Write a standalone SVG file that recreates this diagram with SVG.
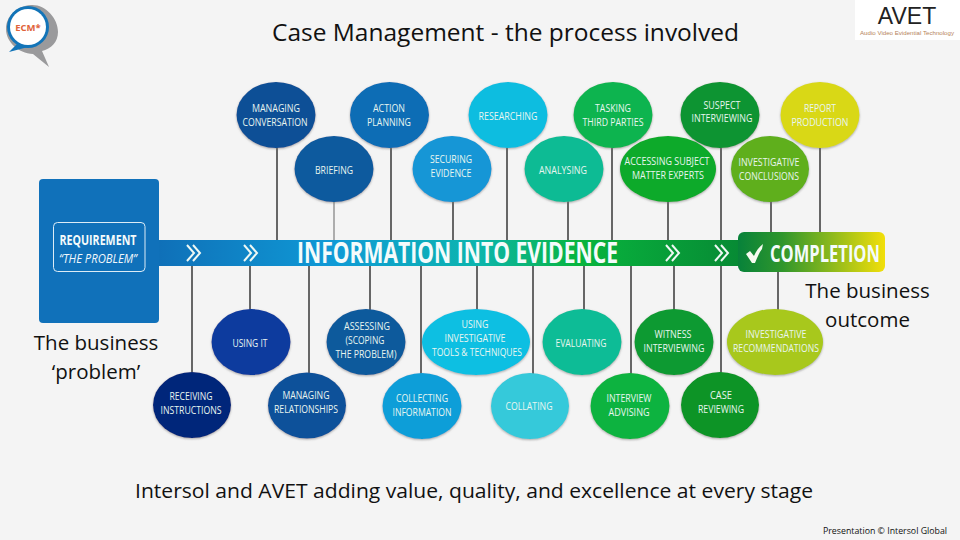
<svg xmlns="http://www.w3.org/2000/svg" width="960" height="540" viewBox="0 0 960 540">
<style>
.t{font-family:"Open Sans","Noto Sans",sans-serif;fill:#111}
.n{font-family:"Open Sans","Noto Sans",sans-serif;fill:#e9f6f0;font-size:10.5px;text-anchor:middle;font-weight:500}
.b{font-family:"Open Sans","Noto Sans",sans-serif;fill:#f4fbfb;font-weight:700;text-anchor:middle}
#connectors line{stroke:#666;stroke-width:2}
.c{fill:none;stroke:#eef8f4;stroke-width:2}
ellipse{filter:url(#s)}
</style>
<defs>
<filter id="s" x="-10%" y="-10%" width="120%" height="125%"><feDropShadow dx="0" dy="1" stdDeviation="0.8" flood-color="#777" flood-opacity="0.6"/></filter>
<linearGradient id="bar" x1="159" x2="740" y1="0" y2="0" gradientUnits="userSpaceOnUse">
<stop offset="0" stop-color="#0f70b8"/><stop offset="0.3" stop-color="#0f9ad6"/><stop offset="0.55" stop-color="#0cb5ad"/><stop offset="0.72" stop-color="#08b53e"/><stop offset="1" stop-color="#078a34"/></linearGradient>
<linearGradient id="comp" x1="0" x2="1" y1="0" y2="0"><stop offset="0" stop-color="#07823a"/><stop offset="0.3" stop-color="#2f962c"/><stop offset="1" stop-color="#f2df0a"/></linearGradient>
</defs>
<rect width="960" height="540" fill="#f4f4f4"/>
<g id="logo-ecm">
<path d="M31 5C45 4 58 18 58 32C58 42 51 49 42 51L49 67L33 54C18 53 6 42 6 29C6 16 17 6 31 5Z" fill="#9a9a9c"/>
<path d="M9 52L18 43L28 47Z" fill="#1274b8"/>
<circle cx="28" cy="27" r="21" fill="#1274b8"/><circle cx="28" cy="27" r="18" fill="#fff"/>
<text x="28" y="31" font-family="'Open Sans',sans-serif" font-size="9.5" font-weight="700" fill="#e0633a" text-anchor="middle">ECM*</text>
</g>
<g id="logo-avet">
<rect x="855" y="0" width="105" height="40" fill="#fff"/>
<text x="907" y="24" font-family="'Liberation Sans',sans-serif" font-size="23" fill="#222" text-anchor="middle">AVET</text>
<text x="907" y="35" font-family="'Liberation Sans',sans-serif" font-size="5.800" fill="#b5835a" text-anchor="middle" textLength="94" lengthAdjust="spacingAndGlyphs">Audio Video Evidential Technology</text>
</g>
<text class="t" x="505.500" y="41" font-size="24" text-anchor="middle" textLength="467" lengthAdjust="spacingAndGlyphs">Case Management - the process involved</text>
<g id="connectors">
<line x1="277" y1="146" x2="277" y2="241"/><line x1="391" y1="146" x2="391" y2="241"/><line x1="507" y1="146" x2="507" y2="241"/><line x1="612" y1="146" x2="612" y2="241"/><line x1="721" y1="146" x2="721" y2="241"/><line x1="820" y1="146" x2="820" y2="233"/>
<line x1="334" y1="200" x2="334" y2="241" style="stroke-width:1"/><line x1="453" y1="200" x2="453" y2="241"/><line x1="568" y1="200" x2="568" y2="241"/><line x1="668" y1="200" x2="668" y2="241"/><line x1="771" y1="200" x2="771" y2="233"/>
<line x1="192" y1="265" x2="192" y2="374"/><line x1="250" y1="265" x2="250" y2="311"/><line x1="309" y1="265" x2="309" y2="374"/><line x1="370" y1="265" x2="370" y2="311"/><line x1="421" y1="265" x2="421" y2="374"/><line x1="477" y1="265" x2="477" y2="311"/><line x1="533" y1="265" x2="533" y2="374"/><line x1="584" y1="265" x2="584" y2="311"/><line x1="631" y1="265" x2="631" y2="374"/><line x1="674" y1="265" x2="674" y2="311"/><line x1="721" y1="265" x2="721" y2="374"/><line x1="778" y1="271" x2="778" y2="311"/>
</g>
<g id="bar-main">
<rect x="155" y="240" width="590" height="26" fill="url(#bar)"/>
<path class="c" d="M187 245L194 253L187 261M193 245L200 253L193 261"/>
<path class="c" d="M244 245L251 253L244 261M250 245L257 253L250 261"/>
<path class="c" d="M666 245L673 253L666 261M672 245L679 253L672 261"/>
<path class="c" d="M715 245L722 253L715 261M721 245L728 253L721 261"/>
<text class="b" x="457.500" y="263" font-size="28" textLength="321" lengthAdjust="spacingAndGlyphs">INFORMATION INTO EVIDENCE</text>
</g>
<g id="requirement">
<rect x="39" y="179" width="120" height="144" rx="4" fill="#1071ba"/>
<rect x="53.500" y="222.500" width="91.500" height="49" rx="4" fill="none" stroke="#dcecf6" stroke-width="1"/>
<text class="b" x="98" y="245" font-size="13.500" textLength="77" lengthAdjust="spacingAndGlyphs">REQUIREMENT</text>
<text x="98" y="263" font-family="'Open Sans',sans-serif" font-size="13.500" font-style="italic" fill="#f0f7fb" text-anchor="middle" textLength="78" lengthAdjust="spacingAndGlyphs">“THE PROBLEM”</text>
</g>
<g id="completion">
<rect x="738" y="232" width="147" height="40" rx="6" fill="url(#comp)"/>
<path d="M746 254L750 251L754 256C756 251 759 247 763 244L762 249C759 253 757 258 755 263L752 263Z" fill="#f6fbf0"/>
<text class="b" x="825" y="262" font-size="24" textLength="110" lengthAdjust="spacingAndGlyphs">COMPLETION</text>
</g>
<g id="n1"><ellipse cx="276" cy="115" rx="39.500" ry="33" fill="#0b4f96"/><text class="n" x="276" y="112" textLength="48" lengthAdjust="spacingAndGlyphs">MANAGING</text><text class="n" x="275" y="126" textLength="65" lengthAdjust="spacingAndGlyphs">CONVERSATION</text></g>
<g id="n2"><ellipse cx="389.500" cy="115" rx="39.500" ry="33" fill="#0d6db5"/><text class="n" x="389" y="112" textLength="32" lengthAdjust="spacingAndGlyphs">ACTION</text><text class="n" x="389" y="126" textLength="44" lengthAdjust="spacingAndGlyphs">PLANNING</text></g>
<g id="n3"><ellipse cx="508" cy="115" rx="39.500" ry="33" fill="#09bde0"/><text class="n" x="508" y="120" textLength="59" lengthAdjust="spacingAndGlyphs">RESEARCHING</text></g>
<g id="n4"><ellipse cx="613" cy="115" rx="39.500" ry="33" fill="#0cb450"/><text class="n" x="613" y="112" textLength="36" lengthAdjust="spacingAndGlyphs">TASKING</text><text class="n" x="613" y="126" textLength="61" lengthAdjust="spacingAndGlyphs">THIRD PARTIES</text></g>
<g id="n5"><ellipse cx="720" cy="115" rx="39.500" ry="33" fill="#079433"/><text class="n" x="722" y="109" textLength="37" lengthAdjust="spacingAndGlyphs">SUSPECT</text><text class="n" x="722" y="122" textLength="61" lengthAdjust="spacingAndGlyphs">INTERVIEWING</text></g>
<g id="n6"><ellipse cx="820" cy="115" rx="39.500" ry="33" fill="#d9d815"/><text class="n" x="820" y="112" textLength="32" lengthAdjust="spacingAndGlyphs">REPORT</text><text class="n" x="820" y="126" textLength="57" lengthAdjust="spacingAndGlyphs">PRODUCTION</text></g>
<g id="n7"><ellipse cx="334" cy="169" rx="39.500" ry="33" fill="#0a5a9e"/><text class="n" x="334" y="174" textLength="38" lengthAdjust="spacingAndGlyphs">BRIEFING</text></g>
<g id="n8"><ellipse cx="452" cy="169" rx="39.500" ry="33" fill="#1296d6"/><text class="n" x="451" y="163" textLength="42" lengthAdjust="spacingAndGlyphs">SECURING</text><text class="n" x="451" y="177" textLength="41" lengthAdjust="spacingAndGlyphs">EVIDENCE</text></g>
<g id="n9"><ellipse cx="564" cy="169" rx="39.500" ry="33" fill="#0cbb94"/><text class="n" x="563" y="174" textLength="48" lengthAdjust="spacingAndGlyphs">ANALYSING</text></g>
<g id="n10"><ellipse cx="668" cy="169" rx="48" ry="33" fill="#0aaa2a"/><text class="n" x="667" y="165" textLength="85" lengthAdjust="spacingAndGlyphs">ACCESSING SUBJECT</text><text class="n" x="668" y="179" textLength="72" lengthAdjust="spacingAndGlyphs">MATTER EXPERTS</text></g>
<g id="n11"><ellipse cx="770" cy="169" rx="39" ry="33" fill="#5faf1e"/><text class="n" x="769" y="166" textLength="61" lengthAdjust="spacingAndGlyphs">INVESTIGATIVE</text><text class="n" x="769" y="180" textLength="60" lengthAdjust="spacingAndGlyphs">CONCLUSIONS</text></g>
<g id="n12"><ellipse cx="192" cy="405" rx="39" ry="33" fill="#06287a"/><text class="n" x="191" y="400" textLength="43" lengthAdjust="spacingAndGlyphs">RECEIVING</text><text class="n" x="191" y="414" textLength="61" lengthAdjust="spacingAndGlyphs">INSTRUCTIONS</text></g>
<g id="n13"><ellipse cx="251" cy="342" rx="39.500" ry="33" fill="#0a3a9e"/><text class="n" x="250" y="347" textLength="35" lengthAdjust="spacingAndGlyphs">USING IT</text></g>
<g id="n14"><ellipse cx="307" cy="405.500" rx="39" ry="33" fill="#0a519a"/><text class="n" x="306" y="399" textLength="47" lengthAdjust="spacingAndGlyphs">MANAGING</text><text class="n" x="306" y="413" textLength="64" lengthAdjust="spacingAndGlyphs">RELATIONSHIPS</text></g>
<g id="n15"><ellipse cx="366" cy="342" rx="39.500" ry="33" fill="#0a5a9c"/><text class="n" x="367" y="330" textLength="46" lengthAdjust="spacingAndGlyphs">ASSESSING</text><text class="n" x="365" y="344" textLength="39" lengthAdjust="spacingAndGlyphs">(SCOPING</text><text class="n" x="366" y="358" textLength="61" lengthAdjust="spacingAndGlyphs">THE PROBLEM)</text></g>
<g id="n16"><ellipse cx="476" cy="342" rx="54" ry="33" fill="#0cbfe2"/><text class="n" x="475" y="328" textLength="27" lengthAdjust="spacingAndGlyphs">USING</text><text class="n" x="475" y="342" textLength="61" lengthAdjust="spacingAndGlyphs">INVESTIGATIVE</text><text class="n" x="477" y="356" textLength="90" lengthAdjust="spacingAndGlyphs">TOOLS &amp; TECHNIQUES</text></g>
<g id="n17"><ellipse cx="530" cy="406" rx="39" ry="33" fill="#35c9da"/><text class="n" x="529" y="410" textLength="47" lengthAdjust="spacingAndGlyphs">COLLATING</text></g>
<g id="n18"><ellipse cx="422" cy="406" rx="39.500" ry="33" fill="#119ed8"/><text class="n" x="422" y="402" textLength="52" lengthAdjust="spacingAndGlyphs">COLLECTING</text><text class="n" x="422" y="416" textLength="59" lengthAdjust="spacingAndGlyphs">INFORMATION</text></g>
<g id="n19"><ellipse cx="582" cy="342" rx="39.500" ry="33" fill="#0cbc96"/><text class="n" x="581" y="347" textLength="51" lengthAdjust="spacingAndGlyphs">EVALUATING</text></g>
<g id="n20"><ellipse cx="630" cy="406" rx="39.500" ry="33" fill="#0bb340"/><text class="n" x="629" y="402" textLength="45" lengthAdjust="spacingAndGlyphs">INTERVIEW</text><text class="n" x="629" y="416" textLength="41" lengthAdjust="spacingAndGlyphs">ADVISING</text></g>
<g id="n21"><ellipse cx="674" cy="342" rx="39.500" ry="33" fill="#079a30"/><text class="n" x="673" y="338" textLength="37" lengthAdjust="spacingAndGlyphs">WITNESS</text><text class="n" x="674" y="352" textLength="61" lengthAdjust="spacingAndGlyphs">INTERVIEWING</text></g>
<g id="n22"><ellipse cx="720" cy="405" rx="39" ry="33" fill="#079428"/><text class="n" x="721" y="399" textLength="22" lengthAdjust="spacingAndGlyphs">CASE</text><text class="n" x="721" y="413" textLength="46" lengthAdjust="spacingAndGlyphs">REVIEWING</text></g>
<g id="n23"><ellipse cx="775" cy="342" rx="48" ry="33" fill="#a8c81a"/><text class="n" x="776" y="338" textLength="61" lengthAdjust="spacingAndGlyphs">INVESTIGATIVE</text><text class="n" x="776" y="352" textLength="86" lengthAdjust="spacingAndGlyphs">RECOMMENDATIONS</text></g>
<text class="t" x="867.500" y="298" font-size="20.500" text-anchor="middle">The business</text>
<text class="t" x="867.500" y="327" font-size="20.500" text-anchor="middle">outcome</text>
<text class="t" x="96" y="350" font-size="20.500" text-anchor="middle">The business</text>
<text class="t" x="96" y="379" font-size="20.500" text-anchor="middle">‘problem’</text>
<text class="t" x="474" y="498" font-size="20.500" text-anchor="middle" textLength="678" lengthAdjust="spacingAndGlyphs">Intersol and AVET adding value, quality, and excellence at every stage</text>
<text class="t" x="885" y="534" font-size="8.500" text-anchor="middle" textLength="124" lengthAdjust="spacingAndGlyphs">Presentation © Intersol Global</text>
</svg>
